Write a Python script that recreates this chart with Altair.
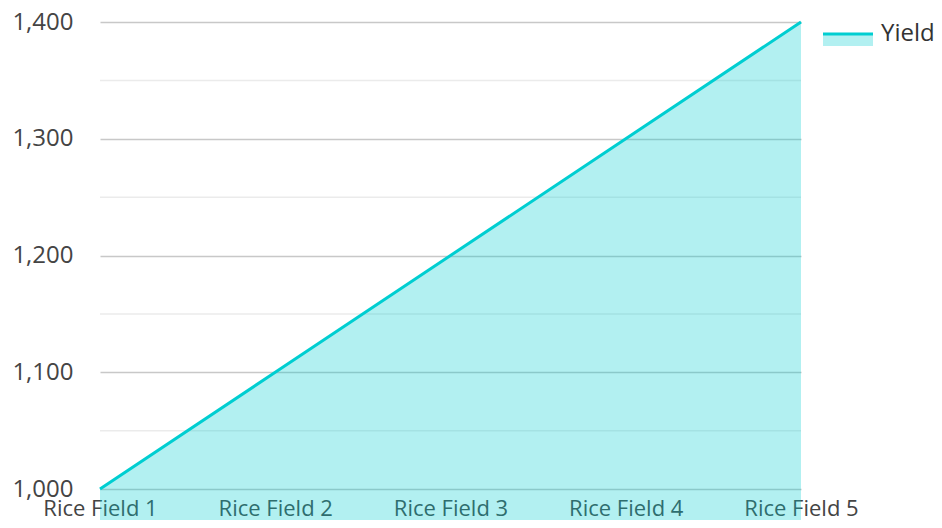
import altair as alt
import pandas as pd

fields = ["Rice Field 1", "Rice Field 2", "Rice Field 3", "Rice Field 4", "Rice Field 5"]
yields = [1000, 1100, 1200, 1300, 1400]
major_ticks = [1000, 1100, 1200, 1300, 1400]
minor_ticks = [1050, 1150, 1250, 1350]
series_name = "Yield"

df = pd.DataFrame({"field": fields, "yield": yields})
minor_df = pd.DataFrame({"v": minor_ticks})

LINE = "#00CED1"
FONT = "Open Sans"
FS = 24
W, H = 701, 467

x_enc = alt.X("field:N", sort=fields,
              scale=alt.Scale(type="point", padding=0),
              axis=alt.Axis(title=None, labelAngle=0, labelFontSize=22, labelFont=FONT,
                            labelColor="#444", ticks=False, domain=False, grid=False,
                            labelPadding=9))
y_scale = alt.Scale(domain=[1000, 1400], nice=False, zero=False)
y_axis = alt.Axis(title=None, values=major_ticks, labelExpr="format(datum.value, ',')",
                  labelFontSize=FS, labelFont=FONT, labelColor="#444", ticks=False,
                  domain=False, gridColor="#c8c8c8", gridWidth=1.5, labelPadding=27)

minor = alt.Chart(minor_df).mark_rule(color="#ebebeb", strokeWidth=1.5).encode(
    y=alt.Y("v:Q", scale=y_scale, axis=y_axis),
    x=alt.value(0), x2=alt.value(W))

area = alt.Chart(df).mark_area(color=LINE, opacity=0.3).encode(
    x=x_enc,
    y=alt.Y("yield:Q", scale=y_scale, axis=y_axis))

line = alt.Chart(df).mark_line(color=LINE, strokeWidth=3).encode(
    x=alt.X("field:N", sort=fields), y=alt.Y("yield:Q", scale=y_scale, axis=y_axis))

leg_df = pd.DataFrame({"name": [series_name]})
leg_fill = alt.Chart(leg_df).mark_rect(color=LINE, opacity=0.3).encode(
    x=alt.value(723), x2=alt.value(773), y=alt.value(13), y2=alt.value(24))
leg_line = alt.Chart(leg_df).mark_rule(color=LINE, strokeWidth=3).encode(
    x=alt.value(723), x2=alt.value(773), y=alt.value(12))
leg_text = alt.Chart(leg_df).mark_text(align="left", baseline="middle", fontSize=FS,
                                       font=FONT, color="#333").encode(
    x=alt.value(781), y=alt.value(12), text="name:N")

chart = alt.layer(minor, area, line, leg_fill, leg_line, leg_text).properties(
    width=W, height=H,
    autosize=alt.AutoSizeParams(type="none"),
    padding={"left": 92, "top": 14, "right": 133, "bottom": 31},
).configure_view(stroke=None).configure_axis(gridOpacity=1)

chart.save("out.html", embed_options={"renderer": "svg", "actions": False})
